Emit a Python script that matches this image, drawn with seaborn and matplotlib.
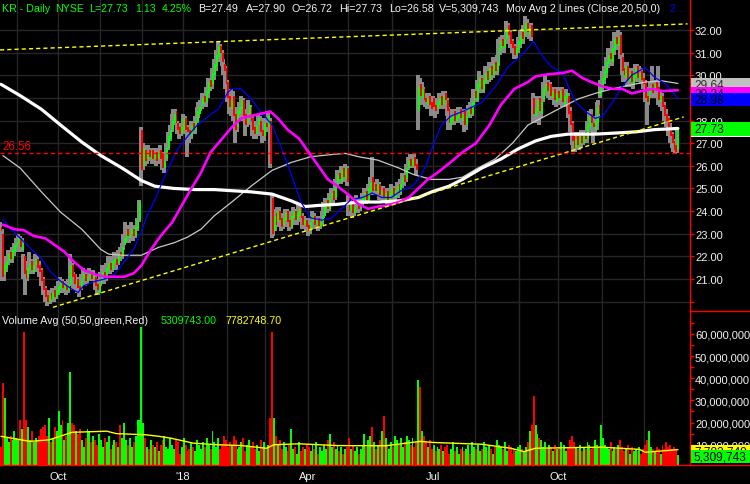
import numpy as np
import pandas as pd
import matplotlib
matplotlib.use("Agg")
import matplotlib.pyplot as plt
from matplotlib.patches import Rectangle
from matplotlib.lines import Line2D
import seaborn as sns

# ---------------- data (KR daily) ----------------
start_date = "2017-08-21"

opens = [
 23.3,23.0,21.2,21.5,21.8,22.2,21.9,22.2,22.4,22.6,
 22.8,22.3,22.0,21.4,21.1,21.4,21.8,21.3,21.6,21.9,
 21.6,21.4,21.0,20.6,20.3,20.0,20.4,20.1,20.5,20.2,
 20.4,20.6,20.9,20.5,20.7,20.5,20.8,21.6,21.2,20.7,
 21.0,20.7,20.6,21.0,21.2,20.9,21.1,21.3,21.0,21.1,
 20.8,20.4,20.8,21.0,21.3,21.0,21.4,21.7,21.4,21.7,
 21.9,21.7,22.2,22.0,22.5,22.7,23.2,22.8,23.0,23.2,
 22.9,23.2,23.6,27.6,26.0,26.7,26.3,26.7,26.3,26.7,
 26.3,26.6,26.3,26.7,26.5,25.9,26.3,26.8,27.2,27.6,
 27.9,28.4,27.9,27.7,27.4,27.6,28.1,27.7,27.6,27.3,
 27.9,27.6,28.0,28.3,28.5,28.7,29.1,28.8,29.2,29.8,
 29.6,30.0,30.4,30.8,31.3,31.0,30.5,30.3,29.7,29.1,
 28.5,29.1,28.3,27.7,28.3,28.5,28.9,28.3,27.9,28.3,
 28.6,28.1,27.7,27.4,27.8,28.0,27.6,27.3,27.9,27.7,
 28.0,24.6,23.1,23.9,23.5,24.0,23.7,23.4,23.6,24.0,
 23.6,23.3,23.7,24.0,23.6,23.8,24.2,23.8,23.4,23.6,
 23.4,23.1,23.5,23.8,23.4,23.7,23.3,23.5,23.8,24.1,
 24.5,24.1,24.6,24.9,24.6,25.2,25.7,25.3,25.9,25.4,
 25.9,24.6,24.0,24.3,23.9,24.2,24.5,24.1,24.3,24.5,
 24.9,24.5,24.9,25.5,24.9,25.2,24.8,25.2,24.7,25.0,
 24.5,24.9,24.5,24.7,25.0,24.6,24.9,25.2,24.8,25.2,
 25.6,25.4,25.9,26.3,26.0,26.4,26.1,28.4,29.6,29.0,
 29.4,29.0,28.7,29.1,28.8,29.0,28.7,28.5,28.7,29.1,
 28.7,29.2,28.9,28.5,27.8,28.0,28.4,28.0,28.1,28.5,
 28.0,28.4,27.8,28.2,28.6,28.3,28.7,29.3,28.9,29.5,
 29.9,29.3,29.7,30.2,29.8,30.4,30.0,30.6,30.2,30.6,
 31.1,31.6,31.2,31.6,32.2,31.9,31.5,31.3,30.9,31.1,
 31.4,31.9,31.5,31.9,32.3,31.8,32.2,29.0,28.2,28.4,
 29.0,28.3,28.9,29.3,29.7,29.2,29.6,29.0,29.4,28.8,
 29.3,28.9,29.4,28.7,29.0,29.1,28.4,27.9,27.3,26.8,
 27.3,26.9,27.4,27.0,27.5,27.2,27.7,28.3,27.9,27.6,
 27.9,28.7,29.1,29.5,29.8,30.1,30.5,31.0,30.6,31.1,
 31.7,31.3,31.8,30.8,30.3,29.9,30.4,29.7,30.2,29.6,
 29.9,30.4,29.8,30.2,29.9,29.7,29.1,28.8,29.2,29.6,
 29.3,29.7,29.5,28.8,29.1,28.7,28.3,28.1,27.7,27.4,
 27.1,26.9,26.72]

highs = [
 23.5,23.2,21.8,22.0,22.3,22.3,22.4,22.6,22.8,23.0,
 22.9,22.8,22.1,21.6,21.8,22.2,21.9,21.8,22.1,22.0,
 21.8,21.5,21.1,20.7,20.4,20.5,20.5,20.6,20.6,20.7,
 20.9,21.1,21.0,20.9,20.8,21.0,22.1,21.7,21.3,21.2,
 21.1,20.8,21.2,21.5,21.3,21.3,21.5,21.4,21.4,21.2,
 20.9,21.0,21.3,21.6,21.4,21.7,22.0,21.8,22.0,22.2,
 22.0,22.3,22.4,22.6,23.0,23.5,23.4,23.2,23.5,23.3,
 23.4,23.7,24.5,27.7,27.0,26.9,26.8,26.9,26.8,26.8,
 26.7,26.8,26.8,26.9,26.6,26.4,27.0,27.5,27.8,28.3,
 28.5,28.5,28.0,27.8,27.9,28.3,28.2,27.8,27.7,28.0,
 28.0,28.2,28.6,28.8,28.9,29.2,29.2,29.5,29.9,29.9,
 30.3,30.7,31.1,31.5,31.4,31.1,30.7,30.4,29.8,29.3,
 29.4,29.3,28.5,28.6,28.8,29.1,29.0,28.5,28.5,28.9,
 28.7,28.2,27.9,28.0,28.3,28.2,27.8,28.1,28.1,28.4,
 28.1,24.8,24.1,24.1,24.2,24.2,23.9,23.9,24.1,24.1,
 23.8,24.0,24.2,24.1,24.1,24.3,24.3,23.9,23.8,23.7,
 23.6,23.7,24.0,23.9,23.8,23.8,23.7,24.0,24.4,24.6,
 24.6,24.8,25.0,25.0,25.4,25.8,25.8,26.0,26.0,26.1,
 26.0,24.7,24.5,24.4,24.4,24.7,24.6,24.5,24.8,25.0,
 25.0,25.2,25.5,26.4,25.3,25.3,25.4,25.3,25.1,25.1,
 25.0,25.0,24.9,25.2,25.1,25.1,25.3,25.3,25.4,25.7,
 25.7,26.1,26.4,26.5,26.5,26.5,26.3,30.0,29.9,29.7,
 29.5,29.2,29.2,29.2,28.9,29.1,28.9,29.0,29.2,29.2,
 29.3,29.3,29.0,28.6,28.3,28.5,28.5,28.4,28.6,28.6,
 28.5,28.5,28.4,28.7,28.8,29.0,29.4,29.4,29.8,30.2,
 30.0,30.0,30.4,30.3,30.6,30.5,30.8,30.7,30.9,31.6,
 31.7,31.8,31.8,32.4,32.3,32.0,31.6,31.4,31.4,31.7,
 32.0,32.0,32.2,32.6,32.5,32.3,32.3,29.2,28.8,29.1,
 29.1,29.0,29.7,30.0,29.8,29.8,29.7,29.5,29.5,29.4,
 29.5,29.5,29.5,29.3,29.4,29.2,28.6,28.0,27.5,27.4,
 27.5,27.5,27.6,27.6,27.6,28.0,28.4,28.5,28.1,28.2,
 28.8,28.9,29.8,30.2,30.4,30.8,31.2,31.2,31.5,31.9,
 31.9,32.0,31.9,31.0,30.5,30.6,30.6,30.3,30.3,30.2,
 30.5,30.5,30.4,30.3,30.1,29.8,29.3,29.5,29.7,30.4,
 29.8,29.8,30.4,29.3,29.2,28.8,28.5,28.2,27.9,27.5,
 27.2,27.0,27.73]

lows = [
 22.9,20.9,20.9,21.3,21.6,21.7,21.7,22.0,22.2,22.4,
 22.2,22.2,21.0,20.3,20.9,21.3,21.2,21.2,21.5,21.3,
 21.1,20.7,20.3,20.0,19.8,19.9,19.9,20.0,20.0,20.1,
 20.3,20.5,20.4,20.4,20.3,20.4,20.7,20.9,20.5,20.5,
 20.4,20.2,20.5,20.9,20.7,20.8,21.0,20.9,20.9,20.5,
 20.3,20.3,20.7,20.9,20.8,20.9,21.3,21.2,21.3,21.6,
 21.4,21.6,21.8,21.9,22.3,22.6,22.7,22.6,22.9,22.7,
 22.8,23.1,23.5,25.1,25.8,26.0,26.1,26.2,26.2,26.1,
 26.1,26.0,26.1,26.2,25.8,25.7,26.2,26.7,27.1,27.5,
 27.8,27.8,27.4,27.2,27.3,27.5,27.4,26.4,27.0,27.2,
 27.4,27.4,27.9,28.1,28.4,28.5,28.6,28.6,29.0,29.3,
 29.4,29.8,30.2,30.6,30.8,30.4,30.0,29.4,28.8,28.3,
 28.2,28.0,27.0,27.5,28.1,28.3,28.0,27.3,27.7,28.1,
 27.8,27.3,27.2,27.2,27.6,27.3,27.0,27.1,27.5,27.5,
 25.9,22.8,22.9,23.1,23.3,23.4,23.1,23.2,23.5,23.3,
 23.1,23.2,23.6,23.4,23.4,23.7,23.5,23.2,23.2,23.1,
 22.9,23.0,23.4,23.2,23.3,23.1,23.2,23.4,23.7,24.0,
 23.9,24.0,24.4,24.3,24.5,25.1,25.2,25.2,25.3,25.3,
 25.1,23.8,23.8,23.7,23.8,24.1,23.9,24.0,24.2,24.4,
 24.3,24.4,24.8,24.7,24.8,24.7,24.7,24.5,24.5,24.4,
 24.4,24.3,24.3,24.6,24.5,24.5,24.8,24.6,24.7,25.0,
 25.1,25.3,25.8,25.9,25.9,25.9,25.6,27.6,28.9,28.7,
 28.7,28.6,28.5,28.5,28.2,28.3,28.1,28.3,28.6,28.5,
 28.5,28.7,28.2,27.6,27.6,27.9,27.8,27.9,28.0,27.9,
 27.8,27.5,27.6,28.1,28.1,28.2,28.6,28.8,28.8,29.3,
 29.2,29.2,29.6,29.6,29.7,29.8,29.9,30.0,30.0,30.4,
 30.9,31.1,31.0,31.4,31.6,31.2,31.0,30.7,30.7,31.0,
 31.2,31.4,31.4,31.8,31.7,31.6,31.5,27.9,27.9,28.2,
 27.8,28.1,28.8,29.1,29.1,29.0,28.9,28.9,28.7,28.6,
 28.7,28.7,28.6,28.6,28.9,28.1,27.5,26.9,26.6,26.6,
 26.7,26.7,26.8,26.9,27.0,27.0,27.5,27.7,27.0,27.4,
 27.6,28.1,29.0,29.3,29.6,29.9,30.3,30.4,30.4,30.9,
 31.1,31.1,30.7,30.0,29.7,29.8,29.5,29.5,29.5,29.4,
 29.7,29.7,29.7,29.6,29.4,28.8,27.8,28.7,29.1,29.0,
 29.0,29.2,28.7,28.6,28.4,28.0,27.7,27.3,27.0,26.8,
 26.6,26.5,26.58]

closes = [
 23.1,21.1,21.6,21.8,22.1,21.9,22.3,22.5,22.6,22.8,
 22.4,22.6,21.2,21.0,21.5,21.7,21.4,21.6,21.9,21.5,
 21.3,20.9,20.5,20.2,20.0,20.3,20.1,20.4,20.2,20.5,
 20.7,20.9,20.6,20.7,20.5,20.8,21.6,21.1,20.8,21.0,
 20.6,20.5,21.0,21.2,20.9,21.1,21.3,21.0,21.2,20.7,
 20.5,20.8,21.1,21.3,21.0,21.5,21.7,21.4,21.8,21.9,
 21.6,22.1,22.0,22.4,22.8,23.1,22.9,23.0,23.2,22.9,
 23.3,23.6,24.4,25.8,26.8,26.2,26.6,26.4,26.6,26.3,
 26.5,26.2,26.6,26.3,25.9,26.2,26.8,27.3,27.6,28.0,
 28.3,27.9,27.6,27.4,27.7,28.1,27.6,27.5,27.4,27.8,
 27.6,28.0,28.4,28.6,28.7,29.0,28.8,29.3,29.7,29.5,
 30.1,30.5,30.9,31.3,31.0,30.6,30.2,29.6,29.0,28.6,
 28.9,28.2,27.6,28.4,28.6,28.9,28.2,27.8,28.3,28.7,
 28.0,27.6,27.4,27.8,28.1,27.5,27.3,27.9,27.7,28.2,
 26.1,23.0,23.8,23.4,24.0,23.6,23.3,23.7,23.9,23.5,
 23.3,23.8,24.0,23.6,23.9,24.1,23.7,23.4,23.6,23.3,
 23.1,23.5,23.8,23.4,23.6,23.3,23.5,23.8,24.2,24.4,
 24.1,24.6,24.8,24.5,25.2,25.6,25.4,25.8,25.5,25.9,
 25.3,24.0,24.3,23.9,24.2,24.5,24.1,24.3,24.6,24.8,
 24.5,25.0,25.3,24.9,25.1,24.9,25.2,24.7,24.9,24.6,
 24.8,24.5,24.8,25.0,24.7,24.9,25.1,24.8,25.2,25.5,
 25.3,25.9,26.2,26.0,26.3,26.0,25.8,29.5,29.1,29.4,
 28.9,28.8,29.0,28.7,28.5,28.6,28.4,28.8,29.0,28.7,
 29.1,28.9,28.4,27.9,28.1,28.3,28.0,28.2,28.4,28.1,
 28.3,27.8,28.2,28.5,28.3,28.8,29.2,29.0,29.6,29.9,
 29.4,29.8,30.1,29.8,30.3,30.0,30.5,30.2,30.6,31.2,
 31.5,31.3,31.6,32.1,31.8,31.4,31.2,30.9,31.2,31.5,
 31.8,31.6,32.0,32.3,31.9,32.1,31.7,28.3,28.5,28.9,
 28.4,28.8,29.4,29.6,29.3,29.5,29.1,29.3,28.9,29.2,
 29.0,29.3,28.8,29.1,29.2,28.3,27.8,27.1,26.8,27.2,
 26.9,27.3,27.0,27.4,27.2,27.8,28.2,27.9,27.7,28.0,
 28.6,28.3,29.6,29.9,30.2,30.6,30.9,30.7,31.2,31.6,
 31.4,31.7,30.9,30.2,30.0,30.4,29.8,30.1,29.7,30.0,
 30.3,29.9,30.1,29.8,29.6,29.0,28.8,29.3,29.5,29.2,
 29.6,29.4,28.9,29.1,28.6,28.2,28.0,27.6,27.3,27.0,
 26.7,26.6,27.73]

volume_millions = [
 9,38,31,13,11,14,12,16,13,12,
 21,17,61,21,18,12,16,11,13,12,
 14,17,18,19,14,22,11,13,18,16,
 25,19,21,12,14,20,43,20,19,16,
 15,17,12,9,13,17,16,11,14,12,
 10,15,12,9,13,11,14,8,10,12,
 11,9,19,13,20,12,10,13,9,11,
 14,21,21,63,20,13,9,8,12,10,
 9,11,7,10,12,14,9,8,13,10,
 8,12,11,6,9,13,10,7,8,11,
 9,7,12,10,8,11,9,13,10,8,
 16,11,9,13,8,10,14,12,9,11,
 10,14,12,8,9,11,13,7,10,12,
 9,11,8,10,7,12,9,11,8,10,
 22,61,22,14,10,12,8,11,9,7,
 10,17,8,9,6,11,7,9,8,10,
 9,7,10,8,11,6,9,7,10,8,
 12,15,9,11,8,10,7,9,6,8,
 9,13,8,10,7,9,6,8,10,15,
 9,12,14,18,11,8,10,12,16,23,
 13,10,8,11,9,14,12,10,13,9,
 11,14,12,10,13,9,11,39,36,16,
 14,11,9,12,8,10,7,9,8,10,
 7,9,10,6,8,11,7,9,6,8,
 9,7,8,10,6,11,9,8,10,7,
 8,11,9,7,10,8,6,9,12,10,
 9,8,11,7,10,9,6,8,7,9,
 10,8,7,9,11,16,19,32,19,15,
 13,12,9,11,8,10,9,7,10,8,
 9,11,8,10,7,9,12,14,11,9,
 8,10,7,9,8,11,10,8,9,12,
 10,9,19,13,10,9,8,11,7,9,
 8,10,12,9,7,8,10,6,9,7,
 8,7,9,6,8,10,12,16,9,8,
 7,9,8,6,10,8,11,9,10,8,
 9,8,5.31]

# moving averages (day index, value)
ma20_days = [1,5,10,16,21,26,31,36,40,43,49,54,59,64,69,73,76,80,83,87,92,97,102,108,113,118,
             120,125,130,135,141,146,151,156,161,167,172,177,182,188,193,198,203,208,214,217,221,
             224,229,234,240,250,257,264,271,277,281,286,292,295,299,304,309,313,318,323,328,335,
             340,346,352]
ma20_vals = [23.66,23.2,22.8,22.3,21.9,21.3,20.9,20.6,20.4,20.7,20.9,21.0,21.2,21.75,22.3,23.1,23.8,
             24.5,25.1,25.9,26.75,27.3,27.8,28.2,28.5,29.25,29.4,29.4,28.95,28.4,27.8,26.75,25.6,
             24.4,23.7,23.6,23.7,24.1,24.5,24.6,24.8,24.6,24.6,24.9,25.1,25.4,26.0,26.75,27.8,28.2,
             28.4,28.8,29.5,30.4,30.9,31.5,30.9,30.4,30.1,29.5,28.8,28.4,28.1,28.2,28.8,29.5,30.0,
             30.35,29.9,29.6,28.98]
ma50_days = [1,7,12,17,23,28,33,38,43,49,54,64,69,73,78,83,89,94,99,104,109,115,120,125,130,135,
             140,144,149,155,160,165,170,175,181,186,191,196,201,207,212,217,222,227,233,240,247,
             254,260,267,274,278,285,292,297,302,307,313,318,323,328,333,339,344,352]
ma50_vals = [23.4,23.2,23.15,22.9,22.8,22.5,22.2,21.75,21.4,21.2,21.1,21.1,21.25,21.6,22.3,22.9,
             23.5,24.25,25.0,25.7,26.6,27.2,27.7,28.1,28.2,28.3,28.4,28.1,27.6,27.2,26.6,26.0,25.4,
             25.1,24.7,24.3,24.1,24.2,24.25,24.4,24.6,25.0,25.4,25.7,26.1,26.6,27.0,27.8,28.7,29.4,
             29.7,29.95,30.05,30.1,30.2,29.9,29.7,29.5,29.4,29.4,29.2,29.3,29.4,29.3,29.34]
ma100_days = [1,10,21,31,42,52,56,63,73,82,90,97,104,111,120,130,141,151,161,172,179,186,196,207,
              215,224,233,240,248,257,266,274,283,292,300,309,318,326,335,344,352]
ma100_vals = [26.45,25.9,24.85,23.95,23.2,22.3,22.1,22.05,22.05,22.4,22.6,22.85,23.2,23.8,24.4,
              25.1,25.8,26.15,26.4,26.5,26.55,26.4,26.25,25.9,25.6,25.4,25.4,25.5,25.9,26.3,27.0,
              27.8,28.2,28.6,28.95,29.2,29.4,29.55,29.7,29.75,29.64]
ma200_days = [0,10,21,31,42,52,63,73,80,90,101,111,120,130,141,151,158,165,175,186,196,207,217,
              224,233,240,250,260,269,278,286,295,309,320,330,340,352]
ma200_vals = [29.6,29.1,28.5,27.8,27.05,26.45,25.9,25.35,25.1,25.0,24.95,24.95,24.9,24.85,24.75,
              24.45,24.2,24.25,24.3,24.4,24.4,24.45,24.6,24.85,25.1,25.4,25.9,26.3,26.75,27.1,27.3,
              27.4,27.4,27.45,27.5,27.6,27.65]
vavg_days = [0,15,25,37,55,60,75,82,88,100,112,125,138,142,155,175,200,218,225,250,265,272,278,
             312,332,335,352]
vavg_vals = [13.8,11.5,12.2,15.6,16.1,15.0,14.5,13.8,13.0,10.7,10.0,9.6,8.4,10.0,10.4,9.6,9.5,11.5,
             11.0,10.2,8.4,6.9,8.4,8.9,7.9,6.6,7.78]

upper_trend_days = [-0.5, 357]
upper_trend_vals = [31.12, 32.27]
lower_trend_days = [27, 355]
lower_trend_vals = [19.75, 28.16]
support_level = 26.56

price_ticks = [20, 21, 22, 23, 24, 25, 26, 27, 28, 29, 30, 31, 32]
volume_ticks = [10, 20, 30, 40, 50, 60]
month_labels = {(2017, 10): "Oct", (2018, 1): "'18", (2018, 4): "Apr",
                (2018, 7): "Jul", (2018, 10): "Oct"}

header_green = [(1.5, "KR - Daily"), (55.5, "NYSE"), (89, "L=27.73"), (135, "1.13"), (162, "4.25%")]
header_white = [(198.6, "B=27.49"), (245.5, "A=27.90"), (292, "O=26.72"), (339, "Hi=27.73"),
                (389.5, "Lo=26.58"), (438.7, "V=5,309,743"), (506, "Mov Avg 2 Lines (Close,20,50,0)")]

# ---------------- style ----------------
sns.set_style("dark")
plt.rcParams['font.family'] = ['Liberation Sans', 'DejaVu Sans']
BG = "#000000"
GRID = "#262626"
RED = "#ff0000"
GREEN = "#00ff00"
TXT = "#f2f2f2"
FS = 7.7

W, H = 750, 485
fig = plt.figure(figsize=(7.5, 4.85), dpi=100, facecolor=BG)
def fx(x): return x / W
def fy(y): return 1 - y / H

P_BOT, V_BOT, AX_R = 312.3, 465.7, 690
ax_p = fig.add_axes([0, fy(P_BOT), fx(AX_R), P_BOT / H])
ax_v = fig.add_axes([0, fy(V_BOT), fx(AX_R), (V_BOT - P_BOT) / H], sharex=ax_p)

n = min(len(opens), len(highs), len(lows), len(closes), len(volume_millions))
o = np.array(opens[:n]); h = np.array(highs[:n]); l = np.array(lows[:n]); c = np.array(closes[:n])
vol = np.array(volume_millions[:n], dtype=float)
x = np.arange(n)
dates = pd.bdate_range(start_date, periods=n)

for ax in (ax_p, ax_v):
    ax.set_facecolor(BG)
    for s in ("top", "left", "bottom"):
        ax.spines[s].set_visible(False)
    ax.spines["right"].set_color(RED)
    ax.spines["right"].set_linewidth(1.0)
    ax.grid(False)
ax_v.spines["bottom"].set_visible(True)
ax_v.spines["bottom"].set_color(RED)
ax_v.spines["bottom"].set_linewidth(1.0)

# month gridlines
month_pos = []
seen = set()
for i, d in enumerate(dates):
    key = (d.year, d.month)
    if key not in seen:
        seen.add(key)
        if i > 0:
            month_pos.append((i - 0.5, key))
for pos, key in month_pos:
    for ax in (ax_p, ax_v):
        ax.axvline(pos, color=GRID, lw=1.0, zorder=0)
for t in price_ticks:
    ax_p.axhline(t, color=GRID, lw=1.0, zorder=0)

# candles: gray high-low bar on the left, coloured open-close body on the right
ax_p.vlines(x - 0.3, l, h, color="#8a8a8a", lw=1.45, zorder=2, antialiased=False)
body = c - o
body = np.where(np.abs(body) < 0.05, 0.05, body)
ax_p.bar(x + 0.25, body, bottom=o, width=1.0, color=np.where(c >= o, GREEN, RED),
         linewidth=0, zorder=3, antialiased=False)

# moving averages
sns.lineplot(x=ma100_days, y=ma100_vals, ax=ax_p, color="#c8c8c8", lw=0.9, zorder=4)
sns.lineplot(x=ma200_days, y=ma200_vals, ax=ax_p, color="#ffffff", lw=2.3, zorder=5)
sns.lineplot(x=ma20_days, y=ma20_vals, ax=ax_p, color="#0000ff", lw=0.9, zorder=6)
sns.lineplot(x=ma50_days, y=ma50_vals, ax=ax_p, color="#ff00ff", lw=1.9, zorder=7)

# trendlines & support
ax_p.plot(upper_trend_days, upper_trend_vals, color="#ffff00", lw=1.0, dashes=(3, 2.2), zorder=8)
ax_p.plot(lower_trend_days, lower_trend_vals, color="#ffff00", lw=1.0, dashes=(3, 2.2), zorder=8)
ax_p.axhline(support_level, color=RED, lw=1.0, dashes=(3, 2.2), zorder=8)
fig.text(fx(2.5), fy(147), f"{support_level:.2f}", color=RED, fontsize=FS + 0.6, va="center", ha="left")

# axes limits / ticks
ax_p.set_xlim(-0.52, 358.3)
ax_p.set_ylim(32 - (P_BOT - 31) / 22.636, 32 + 31 / 22.636)
ax_p.yaxis.tick_right()
ax_p.set_yticks(price_ticks)
ax_p.set_yticklabels(["" if t == 20 else f"{t:.2f}" for t in price_ticks])
ax_p.tick_params(axis="y", colors=RED, labelcolor=TXT, length=3, width=1, pad=0.6, labelsize=FS + 0.3)
ax_p.tick_params(axis="x", bottom=False, labelbottom=False)
ax_p.set_xlabel(""); ax_p.set_ylabel("")

# volume
prev = np.concatenate([[o[0]], c[:-1]])
vcol = np.where(c > prev + 1e-9, GREEN, np.where(c < prev - 1e-9, RED, "#ffffff"))
ax_v.bar(x, vol, width=1.0, color=vcol, linewidth=0, zorder=2, antialiased=False)
sns.lineplot(x=vavg_days, y=vavg_vals, ax=ax_v, color="#ffff00", lw=1.0, zorder=3)
ax_v.set_ylim(0.97, 70.25)
ax_v.yaxis.tick_right()
ax_v.set_yticks(volume_ticks)
ax_v.set_yticklabels([f"{v * 1e6:,.0f}" for v in volume_ticks])
ax_v.set_yticks([5, 15, 25, 35, 45, 55, 65], minor=True)
ax_v.tick_params(axis="y", which="both", colors=RED, labelcolor=TXT, length=3, width=1, pad=0.6,
                 labelsize=FS + 0.3)
lab_pos = [pos for pos, key in month_pos if key in month_labels]
lab_txt = [month_labels[key] for pos, key in month_pos if key in month_labels]
ax_v.set_xticks(lab_pos)
ax_v.set_xticklabels(lab_txt)
ax_v.tick_params(axis="x", length=0, pad=4.5, labelcolor=TXT, labelsize=FS + 0.3)
ax_v.set_xlabel(""); ax_v.set_ylabel("")

# frame lines outside axes
fig.add_artist(Line2D([fx(AX_R), 1], [fy(P_BOT), fy(P_BOT)], color=RED, lw=1.0))
fig.add_artist(Line2D([fx(AX_R), 1], [fy(V_BOT), fy(V_BOT)], color=RED, lw=1.0))

# right-side value boxes (each later box covers the earlier ones, like the reference)
layer = [5.0]
def box(y0, y1, color, text, tcol="#000000", tc=None):
    z = layer[0]
    fig.add_artist(Rectangle((fx(AX_R + 0.5), fy(y1)), fx(W - AX_R), (y1 - y0) / H,
                             transform=fig.transFigure, color=color, zorder=z, lw=0))
    if text:
        fig.text(fx(694), fy(tc if tc else (y0 + y1) / 2), text, color=tcol, fontsize=FS + 0.9,
                 va="center", ha="left", zorder=z + 0.05)
    layer[0] += 0.1

box(79.3, 92.6, "#c0c0c0", "29.64", tcol="#303030")
box(88.3, 101.6, "#ff00ff", "29.34")
box(94.0, 107.3, "#0000ff", "28.98")
box(125.0, 138.3, "#ffffff", "")
box(122.7, 136.7, GREEN, "27.73")
box(445.7, 459.0, "#ffff00", "7,782,749", tc=452.3)
box(450.7, 464.3, GREEN, "5,309,743")

# headers
for xx, t in header_green:
    fig.text(fx(xx), fy(8.5), t, color=GREEN, fontsize=FS, va="center", ha="left")
for xx, t in header_white:
    fig.text(fx(xx), fy(8.5), t, color=TXT, fontsize=FS, va="center", ha="left")
fig.text(fx(670), fy(8.5), "2 ..", color="#0000ff", fontsize=FS, va="center", ha="left")

fig.text(fx(2.4), fy(321), "Volume Avg (50,50,green,Red)", color=TXT, fontsize=FS, va="center", ha="left")
fig.text(fx(161), fy(321), "5309743.00", color=GREEN, fontsize=FS, va="center", ha="left")
fig.text(fx(225), fy(321), "7782748.70", color="#ffff00", fontsize=FS, va="center", ha="left")

fig.savefig("out.png", dpi=100, facecolor=BG)
